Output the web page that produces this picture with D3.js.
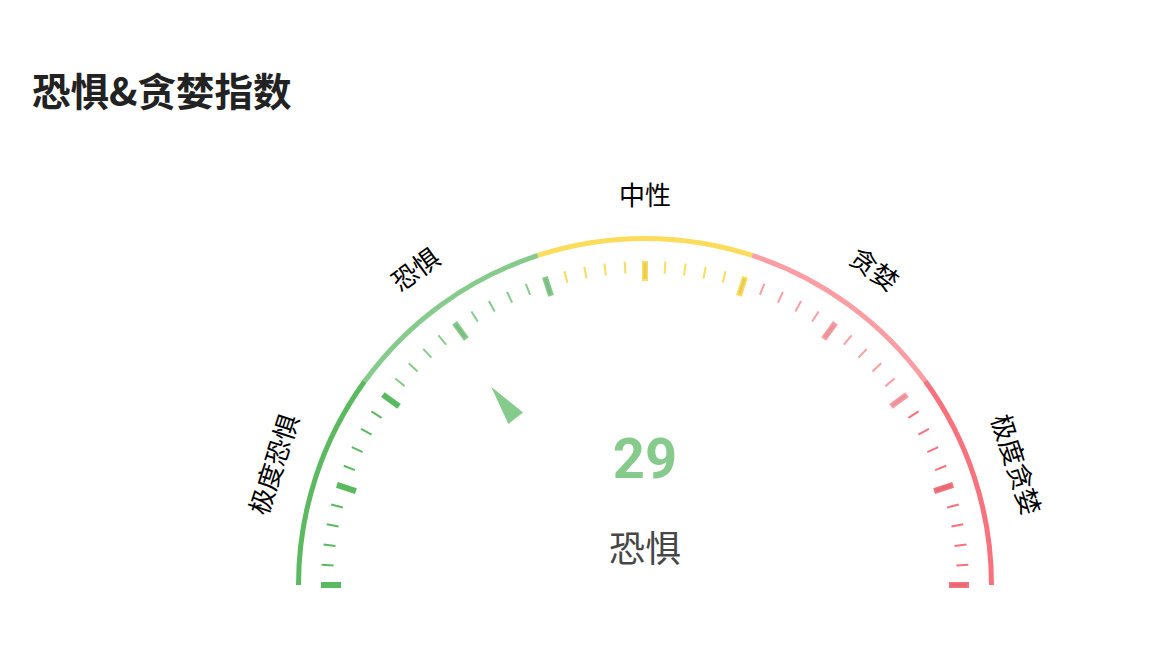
<!DOCTYPE html>
<html>
<head>
<meta charset="utf-8">
<script src="https://cdn.jsdelivr.net/npm/d3@7/dist/d3.min.js"></script>
<style>
  html, body { margin: 0; padding: 0; background: #fff; }
  svg { display: block; }
</style>
</head>
<body>
<svg id="chart" width="1174" height="650"></svg>
<script>
// ---- data ----
const title = '恐惧&贪婪指数';
const segmentLabels = ['极度恐惧', '恐惧', '中性', '贪婪', '极度贪婪'];
const segmentBounds = [0, 20, 40, 60, 80, 100];
const currentValue = 29;
const currentLabel = '恐惧';

// ---- styles ----
const segmentColors = ['#5bb960', '#86cb8c', '#fcdc5c', '#fb9ea4', '#f8717c'];
const W = 1174, H = 650;
const cx = 645, cy = 585;
const arcInner = 344, arcOuter = 349;

const svg = d3.select('#chart');

svg.append('text')
  .attr('x', 32).attr('y', 106)
  .attr('font-family', '"Noto Sans CJK SC", sans-serif')
  .attr('font-weight', 700)
  .attr('font-size', 38.5)
  .attr('fill', '#222')
  .text(title);

const angle = d3.scaleLinear().domain([0, 100]).range([-Math.PI / 2, Math.PI / 2]);
const g = svg.append('g').attr('transform', `translate(${cx},${cy})`);

function segIndex(v) {
  if (v <= segmentBounds[0]) return 0;
  for (let i = 1; i < segmentBounds.length; i++) if (v <= segmentBounds[i]) return i - 1;
  return segmentLabels.length - 1;
}
const pt = (v, r) => [r * Math.sin(angle(v)), -r * Math.cos(angle(v))];

// arc segments
const arc = d3.arc().innerRadius(arcInner).outerRadius(arcOuter);
const segs = segmentLabels.map((l, i) => ({ label: l, start: segmentBounds[i], end: segmentBounds[i + 1], color: segmentColors[i] }));
g.selectAll('path.seg').data(segs).join('path')
  .attr('class', 'seg')
  .attr('d', d => arc({ startAngle: angle(d.start), endAngle: angle(d.end) }))
  .attr('fill', d => d.color);

// minor ticks
const minor = angle.ticks(50).filter(v => v % 10 !== 0);
g.selectAll('line.minor').data(minor).join('line')
  .attr('class', 'minor')
  .attr('x1', d => pt(d, 312)[0]).attr('y1', d => pt(d, 312)[1])
  .attr('x2', d => pt(d, 324)[0]).attr('y2', d => pt(d, 324)[1])
  .attr('stroke', d => segmentColors[segIndex(d)])
  .attr('stroke-width', 2);

// major ticks
const major = angle.ticks(10);
g.selectAll('line.major').data(major).join('line')
  .attr('class', 'major')
  .attr('x1', d => pt(d, 304)[0]).attr('y1', d => pt(d, 304)[1])
  .attr('x2', d => pt(d, 324)[0]).attr('y2', d => pt(d, 324)[1])
  .attr('stroke', d => segmentColors[segIndex(d)])
  .attr('stroke-width', 6);
g.selectAll('line.majorIn').data(major.filter(v => segIndex(v) > 0)).join('line')
  .attr('class', 'majorIn')
  .attr('x1', d => pt(d, 306)[0]).attr('y1', d => pt(d, 306)[1])
  .attr('x2', d => pt(d, 322)[0]).attr('y2', d => pt(d, 322)[1])
  .attr('stroke', d => d3.color(segmentColors[segIndex(d)]).darker(0.35))
  .attr('stroke-width', 3)
  .attr('opacity', 0.6);

// segment labels
g.selectAll('text.seglabel').data(segs).join('text')
  .attr('class', 'seglabel')
  .attr('transform', d => {
    const m = (d.start + d.end) / 2;
    const p = pt(m, 392);
    return `translate(${p[0]},${p[1]}) rotate(${angle(m) * 180 / Math.PI})`;
  })
  .attr('text-anchor', 'middle')
  .attr('dominant-baseline', 'central')
  .attr('font-family', '"Noto Sans CJK SC", sans-serif')
  .attr('font-size', 26)
  .attr('fill', '#000')
  .text(d => d.label);

// pointer
const valColor = segmentColors[segIndex(currentValue)];
const a = angle(currentValue);
const tip = pt(currentValue, 251);
const base = pt(currentValue, 211);
const perp = [Math.cos(a), Math.sin(a)];
const hw = 9.3;
g.append('path')
  .attr('d', `M${tip[0]},${tip[1]}L${base[0] + perp[0] * hw},${base[1] + perp[1] * hw}L${base[0] - perp[0] * hw},${base[1] - perp[1] * hw}Z`)
  .attr('fill', valColor);

// value texts
svg.append('text')
  .attr('x', cx).attr('y', 478)
  .attr('text-anchor', 'middle')
  .attr('font-family', 'Roboto, sans-serif')
  .attr('font-weight', 700)
  .attr('font-size', 56)
  .attr('fill', valColor)
  .text(currentValue);

svg.append('text')
  .attr('x', cx).attr('y', 546)
  .attr('text-anchor', 'middle')
  .attr('dominant-baseline', 'central')
  .attr('font-family', '"Noto Sans CJK SC", sans-serif')
  .attr('font-size', 36)
  .attr('fill', '#474747')
  .text(currentLabel);
</script>
</body>
</html>
